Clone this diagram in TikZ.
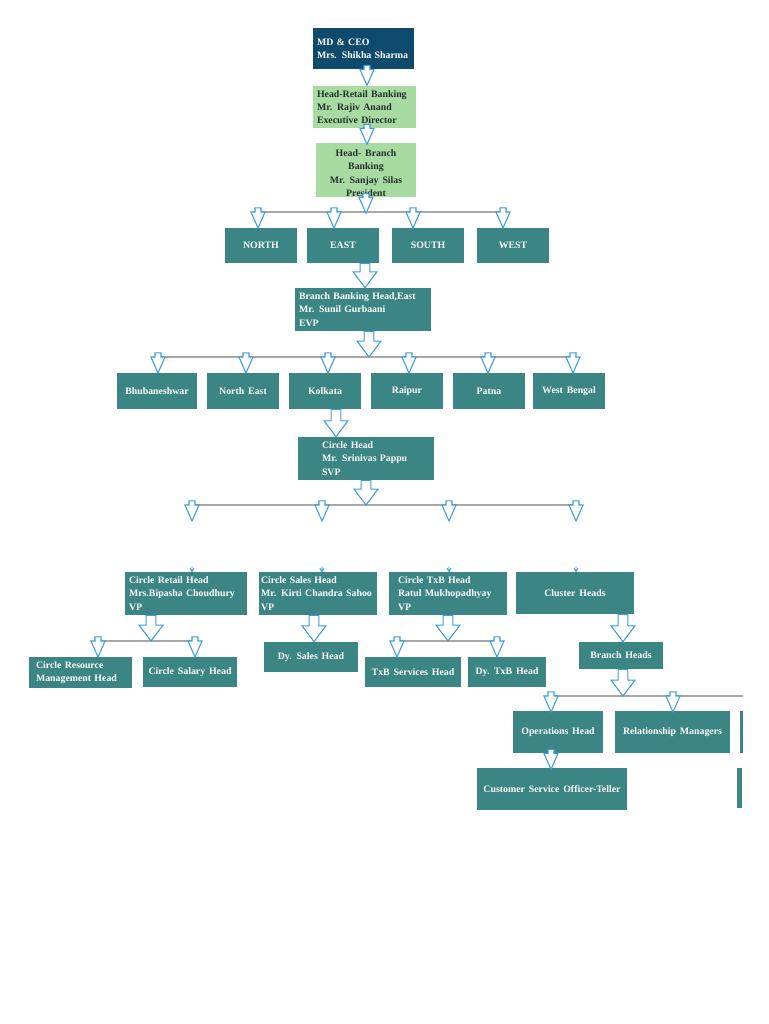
\documentclass[tikz,border=0pt]{standalone}
\usepackage{fontspec}
\setmainfont{Liberation Serif}
\usepackage{tikz}
\usetikzlibrary{calc}
\definecolor{orgNavy}{HTML}{0E4A6C}
\definecolor{orgGreen}{HTML}{A8DBA2}
\definecolor{orgTeal}{HTML}{3B8584}
\definecolor{orgArrow}{HTML}{3D9BE2}
\definecolor{orgLine}{HTML}{A8A8A8}
\definecolor{orgInk}{HTML}{23302A}
\newcommand{\boxfont}{\fontsize{5.6}{7.6}\selectfont\bfseries\spaceskip=2.2pt plus 0.5pt\hyphenpenalty=10000}
\newcommand{\bigarrow}[3]{%
  \draw[block arrow] let \p1=(#2), \p2=(#3), \p3=(#1,0) in
    (\x3-2.8pt,\y1) -- (\x3+2.8pt,\y1) -- (\x3+2.8pt,\y2+9pt)
    -- (\x3+6.8pt,\y2+9pt) -- (\x3,\y2) -- (\x3-6.8pt,\y2+9pt)
    -- (\x3-2.8pt,\y2+9pt) -- cycle;}
\newcommand{\tipat}[2]{%
  \draw[block arrow] let \p1=(#2), \p3=(#1,0) in
    (\x3-1.7pt,\y1+2.3pt) -- (\x3+1.7pt,\y1+2.3pt) -- (\x3+1.7pt,\y1)
    -- (\x3+4pt,\y1) -- (\x3,\y1-9.1pt) -- (\x3-4pt,\y1)
    -- (\x3-1.7pt,\y1) -- cycle;}
\newcommand{\tinytip}[2]{%
  \draw[draw=orgArrow, line width=0.5pt] let \p1=(#2), \p3=(#1,0) in
    (\x3,\y1+3pt) -- (\x3,\y1) (\x3-1.2pt,\y1+2pt) -- (\x3,\y1)
    -- (\x3+1.2pt,\y1+2pt);}
\tikzset{
  org box/.style={inner xsep=0pt, inner ysep=0pt, font=\boxfont,
    align=center},
  navy box/.style={org box, fill=orgNavy, text=white},
  green box/.style={org box, fill=orgGreen, text=orgInk},
  teal box/.style={org box, fill=orgTeal, text=white},
  block arrow/.style={draw=orgArrow, fill=white, line width=0.6pt},
  bar line/.style={draw=orgLine, line width=0.6pt}
}
\begin{document}
\begin{tikzpicture}[x=0.02cm, y=-0.02cm]
  \fill[white] (0,0) rectangle (768,1024);
  \useasboundingbox (0,0) rectangle (768,1024);

  \node[navy box, minimum width=2.02cm, minimum height=0.82cm, align=left,
    inner xsep=0.08cm, text width=1.86cm] (md) at (363.5,48.5)
    {MD \& CEO\\Mrs. Shikha Sharma};
  \node[green box, minimum width=2.06cm, minimum height=0.84cm, align=left,
    inner xsep=0.08cm, text width=1.90cm] (hrb) at (364.5,107)
    {Head-Retail Banking\\Mr. Rajiv Anand\\Executive Director};
  \node[green box, minimum width=2.0cm, minimum height=1.08cm,
    text height=30pt, text depth=0pt] (hbb)
    at (366,170) {Head- Branch\\Banking\\Mr. Sanjay Silas\\President};

  \node[teal box, minimum width=1.44cm, minimum height=0.70cm] (north)
    at (261,245.5) {NORTH};
  \node[teal box, minimum width=1.44cm, minimum height=0.70cm] (east)
    at (343,245.5) {EAST};
  \node[teal box, minimum width=1.44cm, minimum height=0.70cm] (south)
    at (428,245.5) {SOUTH};
  \node[teal box, minimum width=1.44cm, minimum height=0.70cm] (west)
    at (513,245.5) {WEST};

  \node[teal box, minimum width=2.72cm, minimum height=0.86cm, align=left,
    inner xsep=0.08cm, text width=2.56cm] (bbh) at (363,309.5)
    {Branch Banking Head,East\\Mr. Sunil Gurbaani\\EVP};

  \node[teal box, minimum width=1.60cm, minimum height=0.72cm] (bhu)
    at (157,391) {Bhubaneshwar};
  \node[teal box, minimum width=1.44cm, minimum height=0.72cm] (ne)
    at (243,391) {North East};
  \node[teal box, minimum width=1.44cm, minimum height=0.72cm] (kol)
    at (325,391) {Kolkata};
  \node[teal box, minimum width=1.44cm, minimum height=0.72cm] (rai)
    at (407,391) {Raipur};
  \node[teal box, minimum width=1.44cm, minimum height=0.72cm] (pat)
    at (489,391) {Patna};
  \node[teal box, minimum width=1.44cm, minimum height=0.72cm] (wb)
    at (569,391) {West Bengal};

  \node[teal box, minimum width=2.72cm, minimum height=0.86cm, align=left,
    inner xsep=0.48cm, text width=1.76cm] (ch) at (366,458.5)
    {Circle Head\\Mr. Srinivas Pappu\\SVP};

  \node[teal box, minimum width=2.44cm, minimum height=0.86cm, align=left,
    inner xsep=0.08cm, text width=2.28cm] (crh) at (186,593.5)
    {Circle Retail Head\\Mrs.Bipasha Choudhury\\VP};
  \node[teal box, minimum width=2.36cm, minimum height=0.86cm, align=left,
    inner xsep=0.04cm, text width=2.28cm] (csh) at (318,593.5)
    {Circle Sales Head\\Mr. Kirti Chandra Sahoo\\VP};
  \node[teal box, minimum width=2.36cm, minimum height=0.86cm, align=left,
    inner xsep=0.18cm, text width=2.0cm] (cth) at (448,593.5)
    {Circle TxB Head\\Ratul Mukhopadhyay\\VP};
  \node[teal box, minimum width=2.36cm, minimum height=0.84cm] (clh)
    at (575,593) {Cluster Heads};

  \node[teal box, minimum width=2.06cm, minimum height=0.62cm, align=left,
    inner xsep=0.14cm, text width=1.78cm] (crm) at (80.5,672.5)
    {Circle Resource\\Management Head};
  \node[teal box, minimum width=1.88cm, minimum height=0.60cm] (csal)
    at (190,672) {Circle Salary Head};
  \node[teal box, minimum width=1.88cm, minimum height=0.60cm] (dsh)
    at (311,657) {Dy. Sales Head};
  \node[teal box, minimum width=1.92cm, minimum height=0.60cm] (tsh)
    at (413,672) {TxB Services Head};
  \node[teal box, minimum width=1.56cm, minimum height=0.60cm] (dth)
    at (507,672) {Dy. TxB Head};
  \node[teal box, minimum width=1.68cm, minimum height=0.54cm] (bh)
    at (621,655.5) {Branch Heads};

  \node[teal box, minimum width=1.80cm, minimum height=0.84cm] (oh)
    at (558,732) {Operations Head};
  \node[teal box, minimum width=2.30cm, minimum height=0.84cm] (rm)
    at (672.5,732) {Relationship Managers};
  \node[teal box, minimum width=3.0cm, minimum height=0.84cm] (cso)
    at (552,789) {Customer Service Officer-Teller};
  \fill[orgTeal] (740,711) rectangle (743,753);
  \fill[orgTeal] (737,768) rectangle (742,808);

  \coordinate (bar1w) at (258,212); \coordinate (bar1e) at (503,212);
  \coordinate (bar2w) at (158,357); \coordinate (bar2e) at (573,357);
  \coordinate (bar3w) at (192,505); \coordinate (bar3e) at (576,505);
  \coordinate (bar4w) at (98,641);  \coordinate (bar4e) at (195,641);
  \coordinate (bar5w) at (397,641); \coordinate (bar5e) at (497,641);
  \coordinate (bar6w) at (551,696); \coordinate (bar6e) at (743,696);
  \draw[bar line] (bar1w) -- (bar1e);
  \draw[bar line] (bar2w) -- (bar2e);
  \draw[bar line] (bar3w) -- (bar3e);
  \draw[bar line] (bar4w) -- (bar4e);
  \draw[bar line] (bar5w) -- (bar5e);
  \draw[bar line] (bar6w) -- (bar6e);

  \tipat{367}{md.south}
  \tipat{367}{hrb.south}
  \tipat{366}{hbb.south}
  \foreach \px in {258,334,413,503} {\tipat{\px}{bar1w}}
  \bigarrow{365}{east.south}{bbh.north}
  \bigarrow{369}{bbh.south}{bar2w}
  \foreach \px in {158,246,328,409,488,573} {\tipat{\px}{bar2w}}
  \bigarrow{336}{kol.south}{ch.north}
  \bigarrow{366}{ch.south}{bar3w}
  \foreach \px in {192,322,449,576} {\tipat{\px}{bar3w}}
  \tinytip{192}{crh.north}
  \tinytip{322}{csh.north}
  \tinytip{449}{cth.north}
  \tinytip{576}{clh.north}
  \bigarrow{151}{crh.south}{bar4w}
  \foreach \px in {98,195} {\tipat{\px}{bar4w}}
  \bigarrow{314}{csh.south}{dsh.north}
  \bigarrow{448}{cth.south}{bar5w}
  \foreach \px in {397,497} {\tipat{\px}{bar5w}}
  \bigarrow{623}{clh.south}{bh.north}
  \bigarrow{623}{bh.south}{bar6w}
  \foreach \px in {551,673} {\tipat{\px}{bar6w}}
  \tipat{551}{oh.south}
\end{tikzpicture}
\end{document}
